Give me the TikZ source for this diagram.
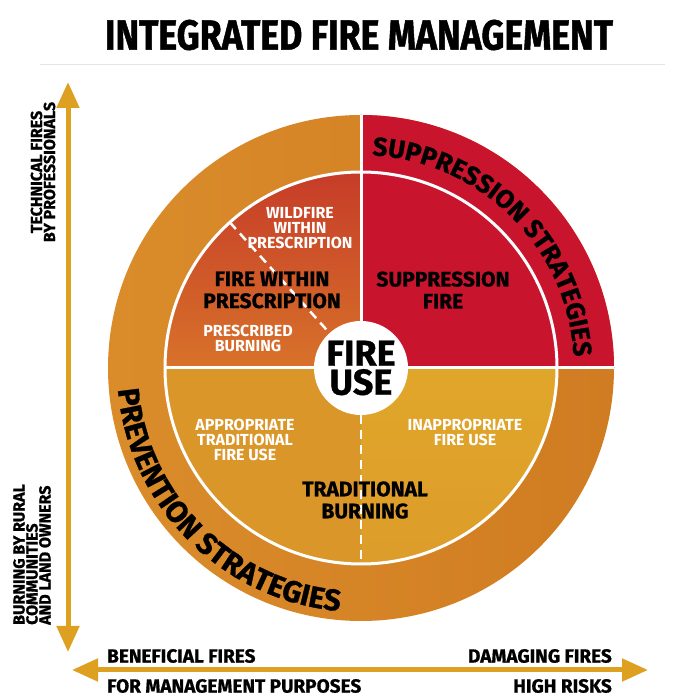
\documentclass[tikz,border=0pt]{standalone}
\usepackage{fontspec}
\setmainfont{Fira Sans}
\newfontfamily\titlefont{Fira Sans}[FakeStretch=0.85, FakeBold=1.2]
\newfontfamily\heavyfont{Fira Sans}[FakeBold=0.9]
\usetikzlibrary{arrows.meta, positioning, calc, decorations.text}

\definecolor{ringorange}{RGB}{218,140,42}
\definecolor{ringdark}{RGB}{208,124,34}
\definecolor{firered}{RGB}{200,20,45}
\definecolor{redorange}{RGB}{198,60,40}
\definecolor{lightorange}{RGB}{216,114,42}
\definecolor{amber}{RGB}{219,150,42}
\definecolor{yellowamber}{RGB}{224,166,42}
\definecolor{arrowgold}{RGB}{222,160,32}

\newcommand\curvefont{\heavyfont\bfseries\fontsize{26}{26}\selectfont}
\newcommand\curvefontb{\heavyfont\bfseries\fontsize{30}{30}\selectfont}

\begin{document}
\begin{tikzpicture}[x=1pt, y=1pt,
    divider/.style={white, line width=3pt},
    dashdiv/.style={white, line width=2.5pt, dash pattern=on 9pt off 6pt},
    blacklabel/.style={align=center, inner sep=0pt, font=\heavyfont\bfseries\fontsize{21}{22}\selectfont},
    whitelabel/.style={align=center, inner sep=0pt, text=white, font=\bfseries\fontsize{16}{15}\selectfont},
    sidelabel/.style={inner sep=0pt, font=\heavyfont\bfseries\fontsize{16}{13}\selectfont},
    axislabel/.style={inner sep=0pt, font=\heavyfont\bfseries\fontsize{19}{19}\selectfont},
    axis/.style={arrowgold, line width=5pt,
      {Triangle[width=22pt,length=26pt]}-{Triangle[width=22pt,length=26pt]}}]
  \useasboundingbox (0,0) rectangle (685,699);
  \coordinate (C) at (361,331);

  % title
  \node (title) at (359,664) {\titlefont\bfseries\fontsize{42}{42}\selectfont INTEGRATED FIRE MANAGEMENT};
  \draw[black!10, line width=0.8pt] (40,635) -- (665,635);

  % outer ring
  \shade[left color=ringorange, right color=ringdark] (C) circle[radius=253pt];
  \fill[firered] (C) -- ($(C)+(0:253pt)$) arc[start angle=0, end angle=90, radius=253pt] -- cycle;

  % inner quadrants
  \shade[top color=redorange, bottom color=lightorange]
    (C) -- ($(C)+(90:196pt)$) arc[start angle=90, end angle=180, radius=196pt] -- cycle;
  \fill[amber]
    (C) -- ($(C)+(180:196pt)$) arc[start angle=180, end angle=270, radius=196pt] -- cycle;
  \shade[top color=yellowamber, bottom color=amber!60!yellowamber]
    (C) -- ($(C)+(270:196pt)$) arc[start angle=270, end angle=360, radius=196pt] -- cycle;

  \draw[divider] (C) circle[radius=196pt];
  \draw[divider] (C) -- ($(C)+(90:253pt)$);
  \draw[divider] (C) -- ($(C)+(0:253pt)$);
  \draw[divider] (C) -- ($(C)+(180:196pt)$);
  \draw[dashdiv] ($(C)+(132:52pt)$) -- ($(C)+(132:196pt)$);
  \draw[dashdiv] ($(C)+(270:47pt)$) -- ($(C)+(270:196pt)$);

  \node (fireuse) [circle, fill=white, minimum size=94pt, inner sep=0pt, align=center,
    font=\heavyfont\bfseries\fontsize{36}{29}\selectfont] at (C) {FIRE\\USE};

  % ring texts
  \path[decorate, decoration={text along path, text align=center,
      text={|\curvefont|SUPPRESSION STRATEGIES}}]
    ($(C)+(90:213pt)$) arc[start angle=90, end angle=0, radius=213pt];
  \path[decorate, decoration={text along path, text align=center,
      text={|\curvefontb|PREVENTION STRATEGIES}}]
    ($(C)+(180:244pt)$) arc[start angle=180, end angle=270, radius=244pt];

  % quadrant labels
  \node (wildfire) [whitelabel] at (300,471) {WILDFIRE\\WITHIN\\PRESCRIPTION};
  \node (withinpres) [blacklabel] at (272,409) {FIRE WITHIN\\PRESCRIPTION};
  \node (prescribed) [whitelabel] at (248,361) {PRESCRIBED\\BURNING};
  \node (suppfire) [blacklabel] at (443,409) {SUPPRESSION\\FIRE};
  \node (approp) [whitelabel] at (245,259) {APPROPRIATE\\TRADITIONAL\\FIRE USE};
  \node (inapprop) [whitelabel] at (465,267) {INAPPROPRIATE\\FIRE USE};
  \node (tradburn) [blacklabel] at (365,199) {TRADITIONAL\\BURNING};

  % axes
  \coordinate (vtop) at (68,617);
  \coordinate (vbot) at (68,47);
  \coordinate (hleft) at (72,29);
  \coordinate (hright) at (648,29);
  \draw[axis] (vbot) -- (vtop);
  \draw[axis] (hleft) -- (hright);

  \node (technical) [sidelabel, rotate=90, align=center] at (43,527) {TECHNICAL FIRES\\BY PROFESSIONALS};
  \node (rural) [sidelabel, rotate=90, align=left, anchor=west] at (32,74) {BURNING BY RURAL\\COMMUNITIES\\AND LAND OWNERS};

  \node (beneficial) [axislabel, anchor=west] at (107,43) {BENEFICIAL FIRES};
  \node (management) [axislabel, anchor=west] at (107,13) {FOR MANAGEMENT PURPOSES};
  \node (damaging) [axislabel, anchor=east] at (612,43) {DAMAGING FIRES};
  \node (risks) [axislabel, anchor=east] at (612,13) {HIGH RISKS};
\end{tikzpicture}
\end{document}
